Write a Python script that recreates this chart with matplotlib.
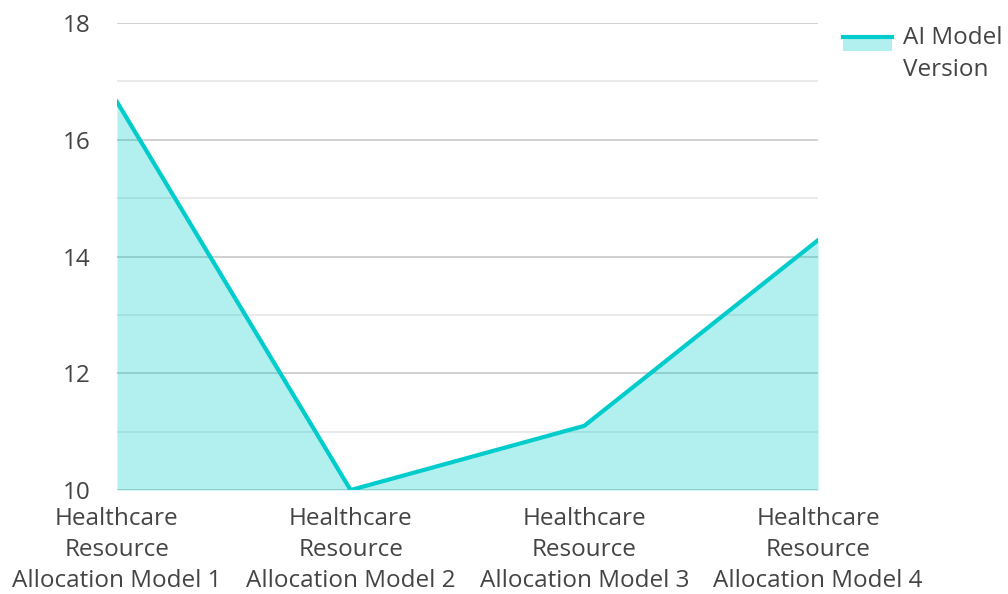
import matplotlib.pyplot as plt
from matplotlib.legend_handler import HandlerBase
from matplotlib.patches import Rectangle
from matplotlib.lines import Line2D

plt.rcParams['font.family'] = ['Open Sans', 'DejaVu Sans']

models = ["Healthcare\nResource\nAllocation Model 1", "Healthcare\nResource\nAllocation Model 2",
          "Healthcare\nResource\nAllocation Model 3", "Healthcare\nResource\nAllocation Model 4"]
values = [16.65, 10.0, 11.1, 14.28]
series_name = "AI Model\nVersion"

line_c = '#00CCCC'
fill_c = '#00CCCC'
text_c = '#444444'


class AreaHandler(HandlerBase):
    def create_artists(self, legend, orig, xd, yd, w, h, fontsize, trans):
        top = yd + h * 1.55
        r = Rectangle((xd, top - 10), w, 10, facecolor=fill_c, alpha=0.3,
                      edgecolor='none', transform=trans)
        l = Line2D([xd, xd + w], [top, top], color=line_c, lw=3, transform=trans)
        return [r, l]


fig = plt.figure(figsize=(10.08, 5.94), dpi=100)
ax = fig.add_axes([0.116, 0.175, 0.6955, 0.7863])

x = list(range(len(models)))
ax.fill_between(x, 10, values, color=fill_c, alpha=0.3, lw=0, zorder=2)
ln, = ax.plot(x, values, color=line_c, lw=3, zorder=3)

ax.set_xlim(0, 3)
ax.set_ylim(10, 18)
ax.set_yticks([10, 12, 14, 16, 18])
ax.set_yticks([11, 13, 15, 17], minor=True)
ax.grid(axis='y', which='major', color='#c8c8c8', lw=1.2, zorder=1)
ax.grid(axis='y', which='minor', color='#e6e6e6', lw=1.2, zorder=1)
ax.set_xticks(x)
ax.set_xticklabels(models, linespacing=1.4)
ax.tick_params(axis='both', which='both', length=0, labelsize=17.5, labelcolor=text_c)
ax.tick_params(axis='y', pad=19)
ax.tick_params(axis='x', pad=12)
for s in ax.spines.values():
    s.set_visible(False)

leg = fig.legend([ln], [series_name], handler_map={Line2D: AreaHandler()},
                 loc='upper left', bbox_to_anchor=(0.815, 0.993), frameon=False,
                 fontsize=17.5, labelcolor=text_c, handlelength=2.0, handletextpad=0.45)
leg.get_texts()[0].set_linespacing(1.45)

fig.savefig('out.png', dpi=100)
